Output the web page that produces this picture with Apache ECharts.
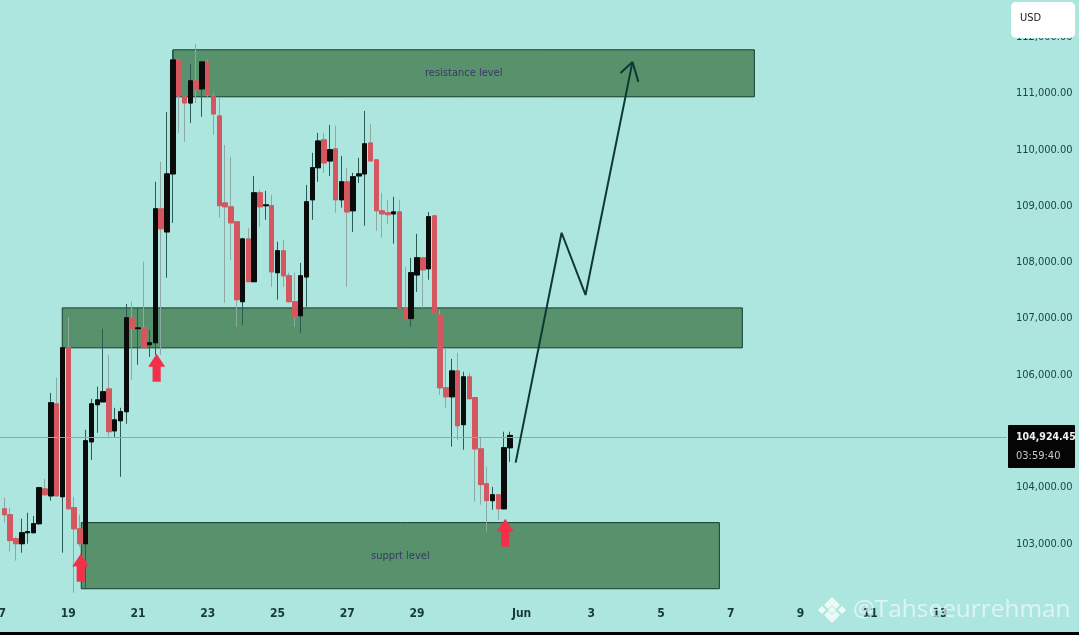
<!DOCTYPE html>
<html>
<head>
<meta charset="utf-8">
<style>html,body{margin:0;padding:0;background:#ade6df;overflow:hidden;width:1079px;height:635px;position:relative}#c{position:absolute;left:-12px;top:0;width:1091px;height:635px}</style>
<script src="https://cdn.jsdelivr.net/npm/echarts@6/dist/echarts.min.js"></script>
</head>
<body>
<div id="c"></div>
<script>
const FIRST_INDEX = 2;
const tickIndexes = [1, 13, 25, 37, 49, 61, 73, 91, 103, 115, 127, 139, 151, 163];
const tickLabels = ['17', '19', '21', '23', '25', '27', '29', 'Jun', '3', '5', '7', '9', '11', '13'];
const open = [
103620,103515,103090,103000,103195,103195,103355,103975,103850,105485,
103835,106480,103640,103265,103000,104810,105470,105520,105750,105005,
105185,105345,107000,106820,106835,106535,106570,108950,108540,109570,
111595,110940,110830,111225,111080,111560,110955,110600,109055,108985,
108720,107300,108415,107655,109235,109005,109005,107815,108205,107760,
107300,107050,107740,109110,109680,110175,109800,110015,109110,109430,
108915,109535,109570,110120,109820,108915,108880,108860,108895,107190,
107000,107775,108080,107885,108825,107065,105770,105610,106070,105115,
105965,105595,104685,104065,103765,103870,103620,104705];
const close = [
103515,103055,103000,103195,103215,103355,103995,103870,105505,103850,
106480,103620,103265,103000,104830,105485,105555,105700,104990,105200,
105345,107015,106820,106835,106480,106570,108950,108595,109570,111595,
110955,110830,111225,111065,111560,110975,110635,109005,108985,108700,
107335,108415,107655,109235,108985,109020,107830,108205,107760,107300,
107030,107760,109075,109680,110155,109765,110000,109110,109430,108895,
109520,109570,110105,109800,108915,108860,108845,108895,107190,106980,
107815,108080,107865,108810,107105,105770,105610,106070,105095,105965,
105575,104685,104050,103765,103870,103620,104705,104924];
const low = [
103375,102860,102700,102840,103000,103190,103335,103850,103765,103835,
102840,103605,102130,102945,102200,104490,104970,105520,104900,104885,
104190,105130,105915,106180,106480,106320,106355,106355,107725,108700,
110300,110140,110475,110830,110585,110940,110265,108790,107280,108045,
106855,106890,107650,107650,108630,108755,107565,107335,107565,107280,
106855,106745,107210,108755,109430,109590,109535,108880,108970,107565,
108540,109410,108650,109800,108560,108435,108685,108330,107190,106980,
106855,107475,107190,107690,107100,105645,105415,104725,104845,104670,
105570,103745,103695,103215,103605,103425,103620,104455];
const high = [
103815,103640,103125,103445,103550,103495,104010,104155,105680,105950,
106490,107030,103835,103515,105025,105575,105790,106820,106355,105415,
105415,107260,107300,107190,108010,106800,109430,109785,110670,111775,
111600,110945,111525,111880,111565,111600,111010,110920,110085,109875,
108725,108435,108610,109535,109285,109270,109200,108365,108400,107815,
107815,107990,109375,109945,110300,110300,110440,110425,109890,109680,
109590,109855,110690,110460,109820,109235,109110,109165,109110,107920,
108080,108505,108080,108895,108845,107155,106465,106285,106390,106055,
106035,105610,104900,104370,104010,103870,104990,104990];
const zones = [
  {name:'resistance level', x0:31.04, x1:131.05, top:111775, bottom:110940},
  {name:'', x0:11.97, x1:128.98, top:107190, bottom:106480},
  {name:'supprt level', x0:15.24, x1:125.03, top:103375, bottom:102200}
];
const trendPath = [[89.98,104440],[97.88,108525],[102.0,107420],[110.08,111560]];
const arrowHead = [[108.02,111365],[110.08,111560],[111.1,111205]];
const signalArrows = [[15.15,102575],[28.21,106125],[88.18,103195]];
const currentPriceLine = 104900;
const CAT_COUNT = 175;

const categories = Array.from({length:CAT_COUNT}, (_, i) => {
  const k = tickIndexes.indexOf(i);
  return k >= 0 ? tickLabels[k] : '';
});
const wickRows = open.map((o,i) => [i+FIRST_INDEX, o, close[i], low[i], high[i]]);
const bodyRows = open.map((o,i) => [i+FIRST_INDEX, o, close[i], Math.min(o,close[i]), Math.max(o,close[i])]);
const narrow = '"DejaVu Sans Condensed","Liberation Sans",sans-serif';
const arrowSymbol = 'path://M50 0 L100 46 L74 46 L74 100 L26 100 L26 46 L0 46 Z';
const logoPieces = [
  [[832,597],[840,605],[836,609],[832,605],[828,609],[824,605]],
  [[832,623],[824,615],[828,611],[832,615],[836,611],[840,615]],
  [[832,606],[836,610],[832,614],[828,610]],
  [[822,606],[826,610],[822,614],[818,610]],
  [[842,606],[846,610],[842,614],[838,610]]
];

const chart = echarts.init(document.getElementById('c'), null, {renderer:'canvas'});
chart.setOption({
  animation:false,
  backgroundColor:'#ade6df',
  grid:{left:0.4, top:0, width:1018.5, height:600, containLabel:false},
  xAxis:[
    {type:'category', data:categories, boundaryGap:true,
     axisLine:{show:false}, axisTick:{show:false}, splitLine:{show:false},
     axisLabel:{interval:(i,v)=>v!=='', color:'#17393a', fontFamily:narrow, fontSize:12, fontWeight:'bold', margin:8, hideOverlap:false}},
    {type:'value', min:-0.5, max:CAT_COUNT-0.5, show:false, splitLine:{show:false}}
  ],
  yAxis:{type:'value', position:'right', min:102000, max:112660, interval:1000,
    axisLine:{show:false}, axisTick:{show:false}, splitLine:{show:false},
    axisLabel:{showMaxLabel:false, showMinLabel:false, color:'#1d4345', fontFamily:narrow, fontSize:11, margin:9, align:'left',
      formatter:v=>v.toLocaleString('en-US',{minimumFractionDigits:2, maximumFractionDigits:2})}},
  series:[
    {type:'line', xAxisIndex:1, data:[], z:1, silent:true,
     markArea:{silent:true, itemStyle:{color:'#57926c', borderColor:'#143c30', borderWidth:1},
       label:{show:true, position:'inside', color:'#3b3768', fontFamily:narrow, fontSize:11},
       data:zones.map(z=>[{name:z.name, xAxis:z.x0, yAxis:z.top},{xAxis:z.x1, yAxis:z.bottom}])}},
    {type:'candlestick', name:'wicks', data:wickRows, encode:{x:0,y:[1,2,3,4]}, barWidth:5, z:3, silent:true,
     itemStyle:{color:'#2a5c55', color0:'#8ea9a4', borderColor:'#2a5c55', borderColor0:'#8ea9a4', borderWidth:1},
     markLine:{silent:true, symbol:'none', label:{show:false}, lineStyle:{color:'#7db0a9', width:1, type:'solid'},
       data:[{yAxis:currentPriceLine}]}},
    {type:'candlestick', name:'bodies', data:bodyRows, encode:{x:0,y:[1,2,3,4]}, barWidth:5, z:4, silent:true,
     itemStyle:{color:'#0b0b0b', color0:'#d4575f', borderColor:'#0b0b0b', borderColor0:'#d4575f', borderWidth:1}},
    {type:'line', xAxisIndex:1, data:trendPath, showSymbol:false, z:5, silent:true, lineStyle:{color:'#0f3833', width:2}},
    {type:'line', xAxisIndex:1, data:arrowHead, showSymbol:false, z:5, silent:true, lineStyle:{color:'#0f3833', width:2}},
    {type:'scatter', xAxisIndex:1, data:signalArrows, symbol:arrowSymbol, symbolSize:[17,28], z:6, silent:true,
     itemStyle:{color:'#f2304a', opacity:1}}
  ],
  graphic:[{type:'group', x:12, y:0, z:100, children:[
    {type:'rect', z:100, shape:{x:1011,y:2,width:64,height:36,r:5}, style:{fill:'#ffffff'}},
    {type:'text', z:101, x:1020, y:18, style:{text:'USD', fill:'#222', font:'11px '+narrow, textVerticalAlign:'middle'}},
    {type:'rect', z:100, shape:{x:1008,y:425,width:67,height:43,r:1}, style:{fill:'#050505'}},
    {type:'text', z:101, x:1016, y:437, style:{text:'104,924.45', fill:'#f2f2f2', font:'bold 10.5px '+narrow, textVerticalAlign:'middle'}},
    {type:'text', z:101, x:1016, y:456, style:{text:'03:59:40', fill:'#c9c9c9', font:'11px '+narrow, textVerticalAlign:'middle'}},
    {type:'rect', z:100, shape:{x:-12,y:632,width:1091,height:3}, style:{fill:'#000'}},
    ...logoPieces.map(p=>({type:'polygon', z:102, shape:{points:p}, style:{fill:'rgba(255,255,255,0.78)'}})),
    {type:'text', z:102, x:853, y:610, style:{text:'@Tahseeurrehman', fill:'rgba(245,250,250,0.68)', font:'24.4px "Open Sans",sans-serif', textVerticalAlign:'middle'}}
  ]}]
});
</script>
</body>
</html>
